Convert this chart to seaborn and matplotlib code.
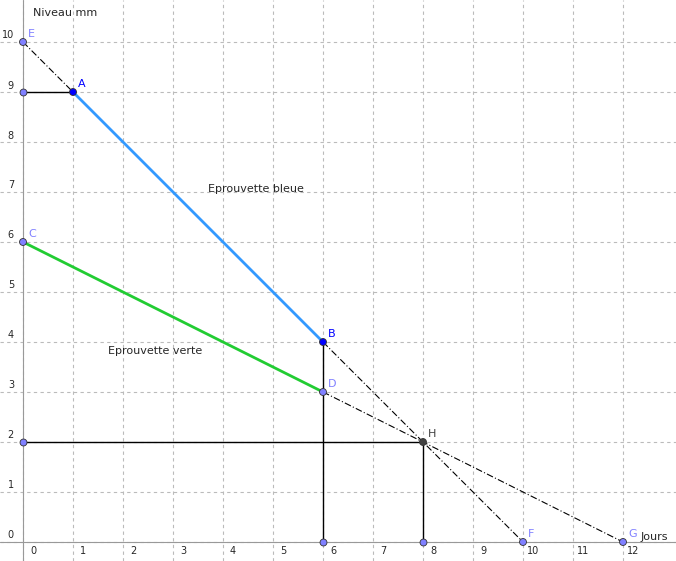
import matplotlib
matplotlib.use("Agg")
import matplotlib.pyplot as plt
import seaborn as sns
import pandas as pd

sns.set_theme(style="white")
plt.rcParams['font.family'] = ['DejaVu Sans']

names = ["E", "A", "C", "B", "D", "H", "F", "G"]
px = [0, 1, 0, 6, 6, 8, 10, 12]
py = [10, 9, 6, 4, 3, 2, 0, 0]
pcolors = ["#8080ff", "#0000ff", "#8080ff", "#0000ff", "#8080ff", "#404040", "#8080ff", "#8080ff"]
extra_x = [0, 0, 6, 8]
extra_y = [9, 2, 0, 0]
xticks = list(range(0, 13))
yticks = list(range(0, 11))

P = dict(zip(names, zip(px, py)))

fig = plt.figure(figsize=(6.76, 5.61), dpi=100)
ax = fig.add_axes([0, 0, 1, 1])
ax.set_xlim(-0.46, 13.06)
ax.set_ylim(-0.38, 10.84)
for t in xticks:
    ax.axvline(t, color="#bbbbbb", ls=(0, (3, 3)), lw=0.8, zorder=0)
for t in yticks:
    ax.axhline(t, color="#bbbbbb", ls=(0, (3, 3)), lw=0.8, zorder=0)
ax.axvline(0, color="#999999", lw=0.8, zorder=0)
ax.axhline(0, color="#999999", lw=0.8, zorder=0)
for t in xticks:
    ax.text(t + 0.2, -0.08, str(t), fontsize=7, ha="center", va="top")
for t in yticks:
    ax.text(-0.18, t + 0.03, str(t), fontsize=7, ha="right", va="bottom")

def seg(a, b, **kw):
    sns.lineplot(x=[a[0], b[0]], y=[a[1], b[1]], ax=ax, sort=False, estimator=None, **kw)

dd = (0, (6, 2, 1, 2))
seg(P["E"], P["A"], color="black", lw=0.8, ls=dd)
seg(P["B"], P["F"], color="black", lw=0.8, ls=dd)
seg(P["D"], P["G"], color="black", lw=0.8, ls=dd)
seg(P["A"], P["B"], color="#3399ff", lw=2)
seg(P["C"], P["D"], color="#22cc33", lw=2)
seg((0, 9), P["A"], color="black", lw=1)
seg(P["B"], (6, 0), color="black", lw=1)
seg((0, 2), P["H"], color="black", lw=1)
seg(P["H"], (8, 0), color="black", lw=1)

df = pd.DataFrame({"x": px, "y": py, "n": names})
sns.scatterplot(data=df, x="x", y="y", hue="n", palette=dict(zip(names, pcolors)),
                ax=ax, s=25, edgecolor="#333333", linewidth=0.6, legend=False, zorder=5)
sns.scatterplot(x=extra_x, y=extra_y, ax=ax, color="#8080ff", s=25,
                edgecolor="#333333", linewidth=0.6, legend=False, zorder=5)
for n, x, y, c in zip(names, px, py, pcolors):
    ax.text(x + 0.1, y + 0.1, n, color=c, fontsize=8)

ax.text(0.2, 10.52, "Niveau mm", fontsize=8)
ax.text(12.35, 0.05, "Jours", fontsize=8)
ax.text(3.7, 7.0, "Eprouvette bleue", fontsize=8)
ax.text(1.7, 3.75, "Eprouvette verte", fontsize=8)
ax.set_xlabel(""); ax.set_ylabel("")
ax.set_xticks([]); ax.set_yticks([])
for s in ax.spines.values():
    s.set_visible(False)
fig.savefig("out.png", dpi=100)
